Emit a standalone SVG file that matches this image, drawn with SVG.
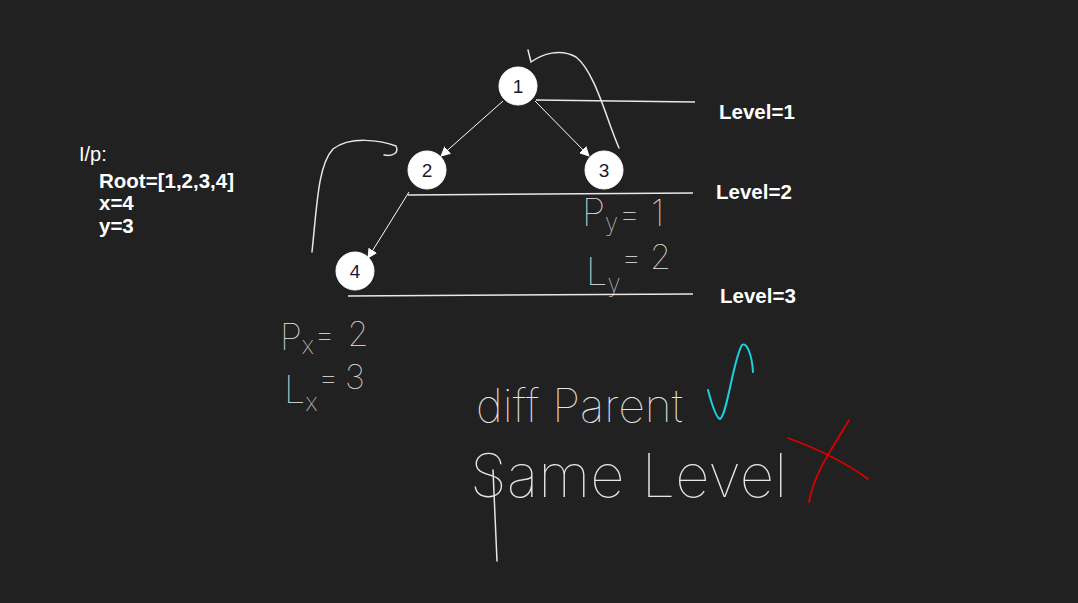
<svg xmlns="http://www.w3.org/2000/svg" width="1078" height="603" viewBox="0 0 1078 603">
  <defs>
    <marker id="arr" viewBox="0 0 10 10" refX="9" refY="5" markerWidth="10" markerHeight="10" markerUnits="userSpaceOnUse" orient="auto">
      <path d="M0,0 L10,5 L0,10 z" fill="#ffffff"/>
    </marker>
    <style>
      .node circle { fill: #ffffff; stroke: #ffffff; }
      .node text { font-family: "Liberation Sans", Arial, sans-serif; font-size: 19px; fill: #1a1a2e; text-anchor: middle; }
      .edge { stroke: #ffffff; stroke-width: 1; fill: none; }
      .lvl { stroke: #e8e8e8; stroke-width: 1.5; fill: none; }
      .ink { stroke: #e6e6e6; stroke-width: 1.5; fill: none; stroke-linecap: round; }
      .lbl { font-family: "Liberation Sans", Arial, sans-serif; font-size: 20.5px; font-weight: bold; fill: #ffffff; }
      .plain { font-family: "Liberation Sans", Arial, sans-serif; font-size: 20px; fill: #ffffff; }
      .hand { font-family: Inter, "DejaVu Sans", sans-serif; font-weight: 100; fill: #e6e6e6; }
    </style>
  </defs>
  <rect width="1078" height="603" fill="#212121"/>

  <g id="connectors">
    <line class="edge" x1="503" y1="101" x2="441" y2="156" marker-end="url(#arr)"/>
    <line class="edge" x1="535" y1="101" x2="589" y2="156" marker-end="url(#arr)"/>
    <line class="edge" x1="409" y1="192" x2="368" y2="258" marker-end="url(#arr)"/>
  </g>

  <g id="level-lines">
    <path class="lvl" d="M536,100 L695,102"/>
    <path class="lvl" d="M408,195 L693,193"/>
    <path class="lvl" d="M348,296 L693,294"/>
  </g>

  <g id="node-1" class="node"><circle cx="518" cy="86" r="19"/><text x="518" y="93">1</text></g>
  <g id="node-2" class="node"><circle cx="427" cy="170" r="19"/><text x="427" y="177">2</text></g>
  <g id="node-3" class="node"><circle cx="604" cy="170" r="19"/><text x="604" y="177">3</text></g>
  <g id="node-4" class="node"><circle cx="355" cy="271" r="19"/><text x="355" y="278">4</text></g>

  <g id="level-labels">
    <text class="lbl" x="719" y="119">Level=1</text>
    <text class="lbl" x="716" y="199">Level=2</text>
    <text class="lbl" x="720" y="303">Level=3</text>
  </g>

  <g id="input">
    <text class="plain" x="79" y="161">I/p:</text>
    <text class="lbl" x="99" y="188">Root=[1,2,3,4]</text>
    <text class="lbl" x="99" y="210">x=4</text>
    <text class="lbl" x="99" y="233">y=3</text>
  </g>

  <g id="traversal-strokes">
    <path class="ink" d="M528,50 L531,62 C542,54 560,48 576,57 C595,72 606,118 619,148"/>
    <path class="ink" d="M312,252 C317,205 318,165 333,149 C350,136 380,140 396,146 C399,152 394,157 384,155"/>
  </g>

  <g id="annotations">
    <text class="hand" x="582" y="226" font-size="38">P<tspan font-size="24" dy="5">y</tspan><tspan dy="-5" font-size="36" letter-spacing="10">=1</tspan></text>
    <text class="hand" x="586" y="285" font-size="38">L<tspan font-size="24" dy="7">y</tspan><tspan dy="-23" font-size="34" letter-spacing="8">=2</tspan></text>
    <text class="hand" x="280" y="350" font-size="36">P<tspan font-size="24" dy="4">x</tspan><tspan dy="-8" font-size="34" letter-spacing="12">=2</tspan></text>
    <text class="hand" x="284" y="403" font-size="38">L<tspan font-size="24" dy="8">x</tspan><tspan dy="-22" font-size="34" letter-spacing="6">=3</tspan></text>
    <text class="hand" x="476" y="422" font-size="46">diff Parent</text>
    <text class="hand" x="470" y="497" font-size="60">Same Level</text>
    <path class="ink" d="M493,470 L497,561"/>
    <path d="M708,390 C712,405 716,418 720,419 C727,416 733,360 742,345 C747,342 752,355 753,372" fill="none" stroke="#1ad2dc" stroke-width="2" stroke-linecap="round"/>
    <path d="M788,438 C815,448 845,462 868,479" fill="none" stroke="#d80000" stroke-width="1.8" stroke-linecap="round"/>
    <path d="M849,420 C835,445 815,470 809,502" fill="none" stroke="#d80000" stroke-width="1.8" stroke-linecap="round"/>
  </g>
</svg>
